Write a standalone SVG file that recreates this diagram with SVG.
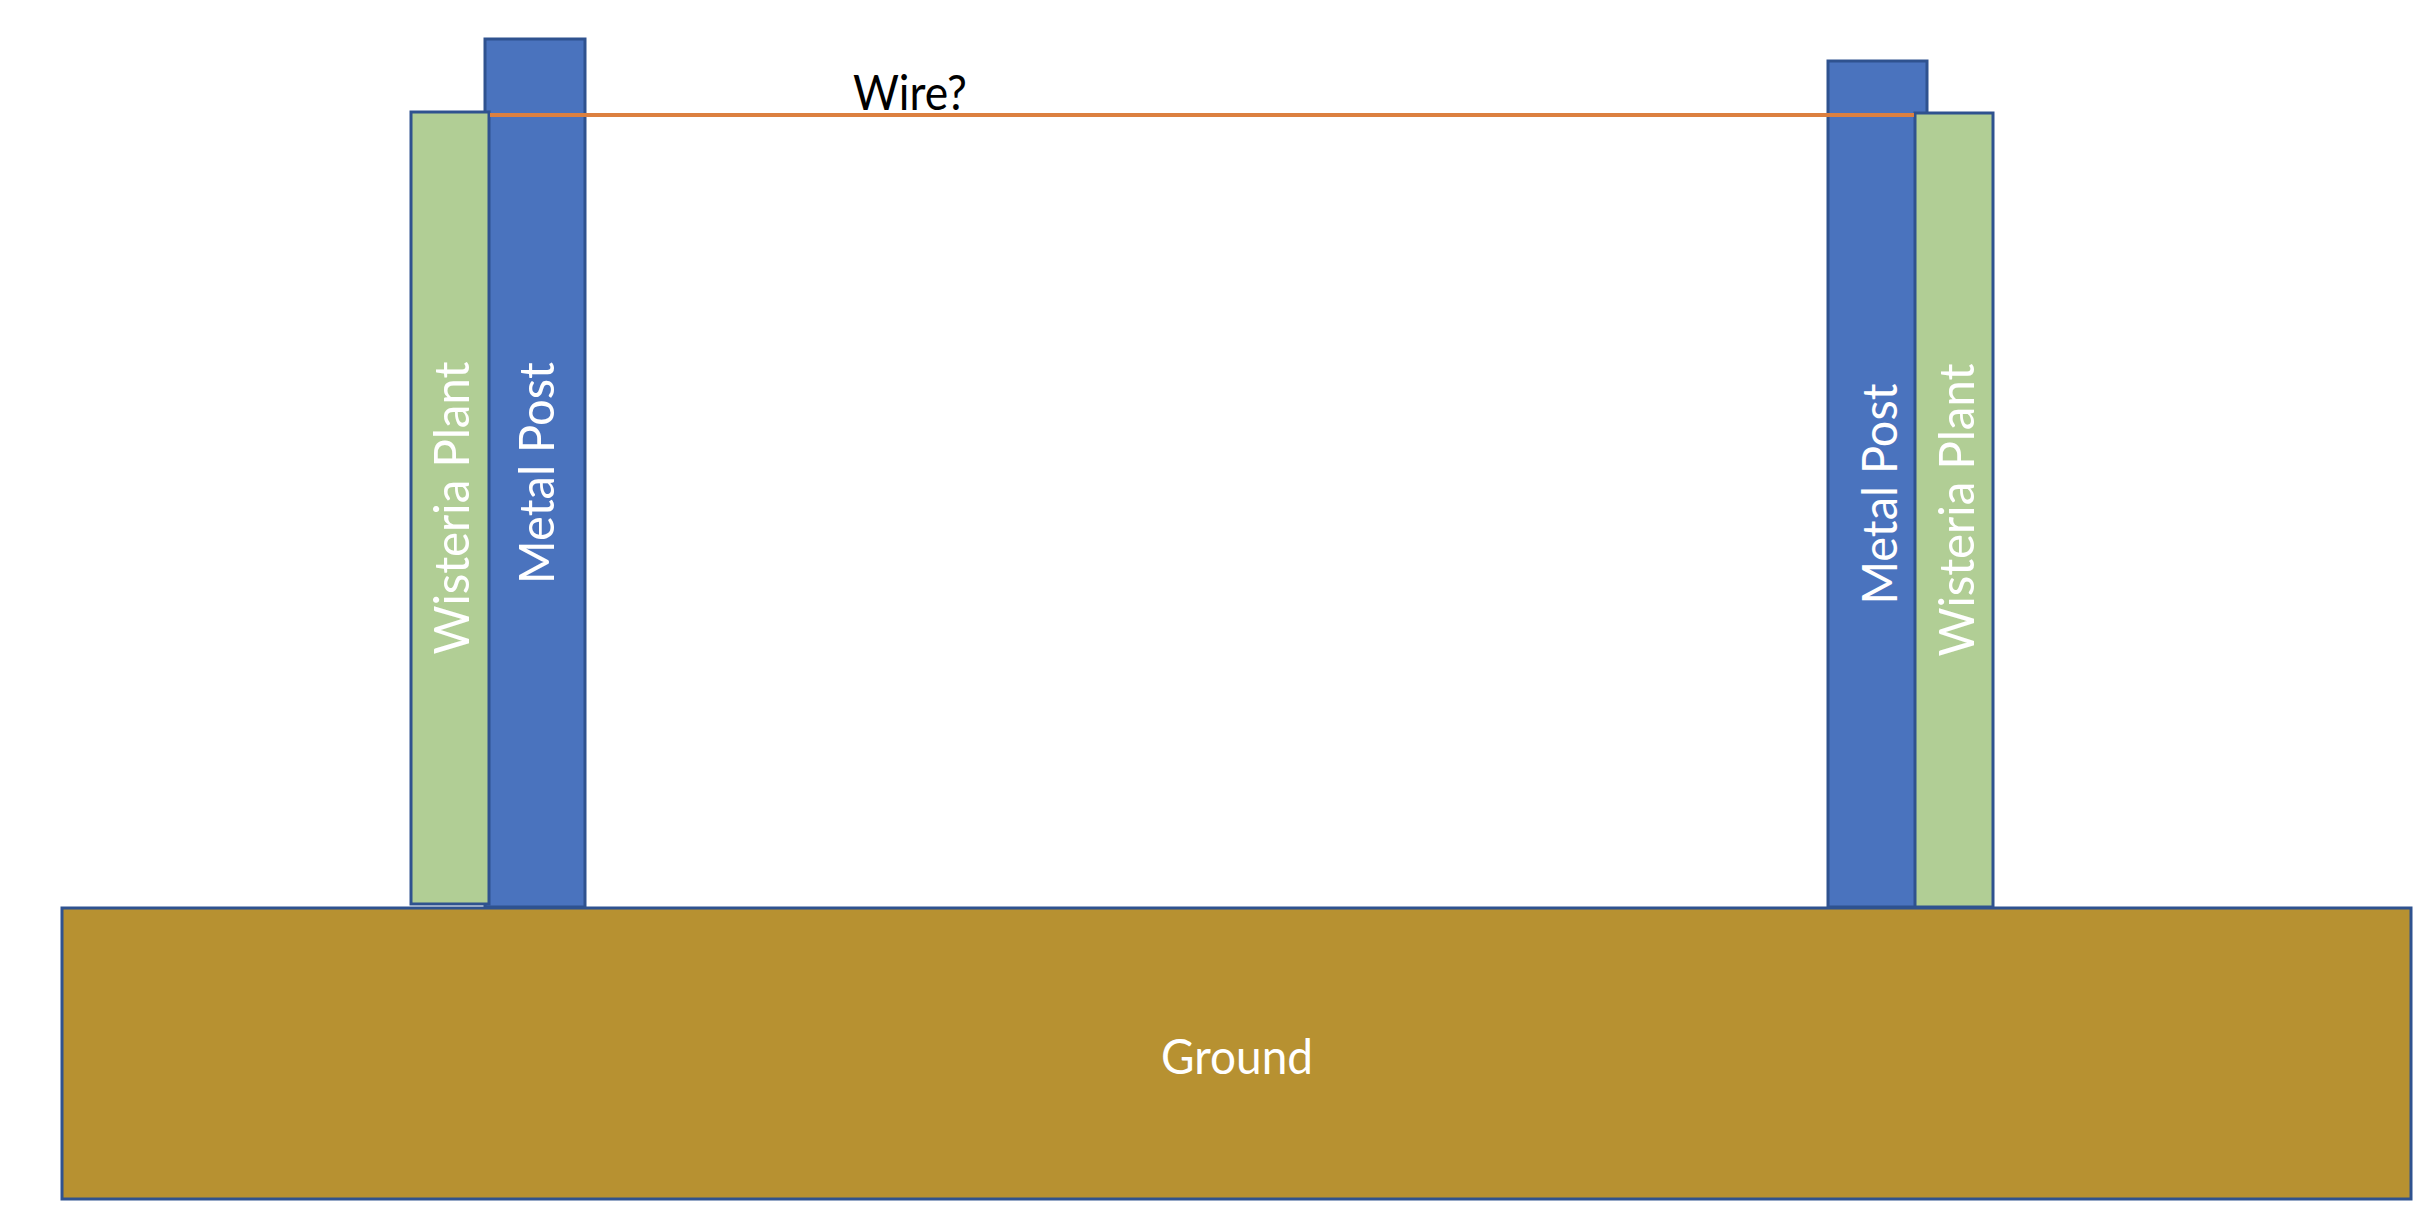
<svg xmlns="http://www.w3.org/2000/svg" width="2428" height="1208" viewBox="0 0 2428 1208">
<style>
.post{fill:#4A73BE;stroke:#2F528F;stroke-width:3}
.plant{fill:#B1CE95;stroke:#2F528F;stroke-width:3}
.ground{fill:#B79131;stroke:#2F528F;stroke-width:3}
.lbl{font-family:Lato,"Open Sans","Liberation Sans",sans-serif;font-size:49px;fill:#FFFFFF;text-anchor:middle}
.wire{stroke:#DC8040;stroke-width:4;fill:none}
.wlbl{font-family:Lato,"Open Sans","Liberation Sans",sans-serif;font-size:49px;fill:#000000}
</style>
<rect width="2428" height="1208" fill="#FFFFFF"/>
<g id="left-post">
<rect class="post" x="485" y="39" width="100" height="868"/>
<text class="lbl" transform="translate(554,473) rotate(-90)" textLength="222" lengthAdjust="spacingAndGlyphs">Metal Post</text>
</g>
<g id="left-plant">
<rect class="plant" x="411" y="112" width="78" height="792"/>
<text class="lbl" transform="translate(469,508) rotate(-90)" textLength="293" lengthAdjust="spacingAndGlyphs">Wisteria Plant</text>
</g>
<g id="right-post">
<rect class="post" x="1828" y="61" width="99" height="846"/>
<text class="lbl" transform="translate(1897,494) rotate(-90)" textLength="221" lengthAdjust="spacingAndGlyphs">Metal Post</text>
</g>
<g id="right-plant">
<rect class="plant" x="1915" y="113" width="78" height="794"/>
<text class="lbl" transform="translate(1974,510) rotate(-90)" textLength="293" lengthAdjust="spacingAndGlyphs">Wisteria Plant</text>
</g>
<g id="connectors">
<line class="wire" x1="490" y1="115" x2="1914" y2="115"/>
</g>
<g id="wire-label">
<text class="wlbl" x="853" y="110" textLength="114" lengthAdjust="spacingAndGlyphs">Wire?</text>
</g>
<g id="ground">
<rect class="ground" x="62" y="908" width="2349" height="291"/>
<text class="lbl" x="1237" y="1074" font-size="47" textLength="152" lengthAdjust="spacingAndGlyphs">Ground</text>
</g>
</svg>
